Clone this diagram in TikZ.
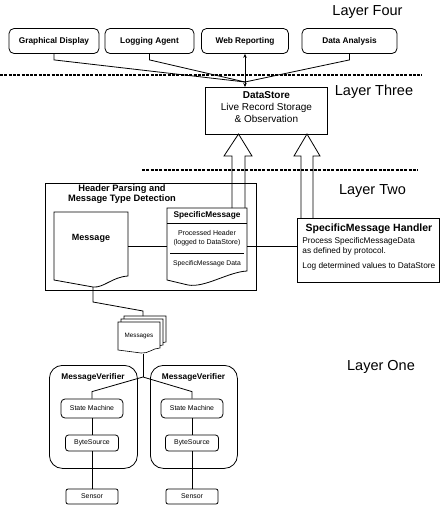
\documentclass[tikz,border=0pt]{standalone}
\usepackage{fontspec}
\setmainfont{Liberation Sans}
\usetikzlibrary{arrows.meta,calc}
\newcommand{\myfs}[2]{\fontsize{#1}{#2}\selectfont}
\begin{document}
\begin{tikzpicture}[x=1pt,y=-1pt,line width=0.8pt,
  topbox/.style={draw, rounded corners=5pt, minimum height=25pt, inner sep=0pt, font=\myfs{8.3}{9}\bfseries},
  layer/.style={font=\myfs{14.5}{16}},
  smallbox/.style={draw, rounded corners=4pt, inner sep=0pt, font=\myfs{6.9}{8}},
  verbox/.style={draw, rounded corners=13pt, minimum width=88pt, minimum height=103pt, inner sep=0pt},
  plainbox/.style={draw, inner sep=0pt},
  dotline/.style={line width=2.2pt, dash pattern=on 3pt off 1.3pt},
  tipend/.style={-{Stealth[length=4pt,width=3.5pt]}},
  tipboth/.style={{Stealth[length=4pt,width=3.5pt]}-{Stealth[length=4pt,width=3.5pt]}}]
\useasboundingbox (0,0) rectangle (443,507);

% layer labels
\node[layer] (l4) at (367.5,12) {Layer Four};
\node[layer] (l3) at (374,92) {Layer Three};
\node[layer] (l2) at (372.5,191) {Layer Two};
\node[layer] (l1) at (381,367) {Layer One};

% layer four boxes
\node[topbox, minimum width=90pt] (gd) at (54,41) {Graphical Display};
\node[topbox, minimum width=89pt] (la) at (149.5,41) {Logging Agent};
\node[topbox, minimum width=87pt] (wr) at (245,41) {Web Reporting};
\node[topbox, minimum width=95pt] (da) at (349.5,41) {Data Analysis};

% DataStore
\node[plainbox, minimum width=122pt, minimum height=47pt, anchor=north west] (ds) at (205,87) {};
\node[anchor=north, align=center, inner sep=0pt, font=\myfs{10}{12}] (dst) at ($(ds.north)+(0,4)$) {{\bfseries DataStore}\\Live Record Storage\\\& Observation};
\coordinate (dsin) at ($(ds.north west)+(40,0)$);
\coordinate (conv) at ($(dsin)+(0,-5)$);

\draw (gd.south) -- ++(0,6) -- (conv);
\draw (la.south) -- ++(0,6) -- (conv);
\draw (da.south) -- ++(0,6) -- (conv);
\draw[tipboth] (dsin) -- (wr.south);

% dotted separators
\draw[dotline] (0,75) -- (422,75);
\draw[dotline] (142,170) -- (418,170);

% header parsing box
\node[plainbox, minimum width=211pt, minimum height=107pt, anchor=north west] (hp) at (45,183) {};
\node[anchor=north, align=center, inner sep=0pt, font=\myfs{9.3}{10}\bfseries] (hpt) at (122,184) {Header Parsing and\\Message Type Detection};

% Message document
\draw (54,212) -- (128,212) -- (128,276) .. controls (112,277) and (104,288) .. (93,287) -- (54,280) -- cycle;
\coordinate (msgbot) at (93,287);
\coordinate (msgr) at (128,246);
\node[font=\myfs{9}{10}\bfseries] (msg) at (91,238) {Message};

% SpecificMessage document
\draw (167,208) -- (247,208) -- (247,271) .. controls (228,272) and (205,288) .. (188,285) -- (167,280) -- cycle;
\draw (167,223) -- (247,223);
\draw (170,253) -- (244,253);
\node[font=\myfs{8.3}{9}\bfseries] (smt) at (207,215.5) {SpecificMessage};
\node[align=center, font=\myfs{7}{9.5}] (smh) at (207,238) {Processed Header\\(logged to DataStore)};
\node[font=\myfs{6.8}{8}] (smd) at (207,264) {SpecificMessage Data};
\coordinate (sml) at (167,246);
\coordinate (smr) at (247,246);

% Handler
\node[plainbox, minimum width=142pt, minimum height=64pt, anchor=north west] (hd) at (297,218) {};
\node[font=\myfs{10.5}{12}\bfseries] (hdt) at (369,228.5) {SpecificMessage Handler};
\node[anchor=north west, align=left, inner sep=0pt, font=\myfs{8.3}{10}] (hdb) at (302,237) {Process SpecificMessageData\\as defined by protocol.\\[5pt]Log determined values to DataStore};

\draw (msgr) -- (sml);
\draw (smr) -- (hd.west |- smr);

% hollow arrows up to DataStore
\draw (232,208) -- (232,156) -- (224,156) -- (238.5,134) -- (252,156) -- (245,156) -- (245,208);
\draw (301,218) -- (301,156) -- (294,156) -- (307,134) -- (320,156) -- (313,156) -- (313,218);

% Messages stack
\foreach \d in {6,3,0}{
  \draw[fill=white, line width=0.6pt] (118+\d,322-\d) -- (160+\d,322-\d) -- (160+\d,348-\d) .. controls (153+\d,348-\d) and (148+\d,354-\d) .. (141+\d,353-\d) -- (118+\d,350-\d) -- cycle;
}
\node[font=\myfs{6.3}{7}] (msgs) at (139,336) {Messages};
\coordinate (msgstop) at (143,316);
\coordinate (msgsbot) at (143,353.5);
\draw (msgbot) -- ++(0,15) -- ($(msgstop)+(0,-5)$) -- (msgstop);

% Message verifiers
\node[verbox, anchor=north west] (mv1) at (49,365) {};
\node[verbox, anchor=north west, minimum width=87pt] (mv2) at (150,365) {};
\node[font=\myfs{8.3}{9}\bfseries] (mv1t) at (93,377) {MessageVerifier};
\node[font=\myfs{8.3}{9}\bfseries] (mv2t) at (193.5,377) {MessageVerifier};

\node[smallbox, minimum width=62pt, minimum height=19pt] (sm1) at (92,408.5) {State Machine};
\node[smallbox, minimum width=62pt, minimum height=19pt] (sm2) at (192,408.5) {State Machine};
\node[smallbox, rounded corners=3pt, minimum width=53pt, minimum height=16pt] (bs1) at (92,443) {ByteSource};
\node[smallbox, rounded corners=3pt, minimum width=53pt, minimum height=16pt] (bs2) at (192,443) {ByteSource};
\node[smallbox, rounded corners=2pt, minimum width=52pt, minimum height=15pt] (se1) at (92,496.5) {Sensor};
\node[smallbox, rounded corners=2pt, minimum width=52pt, minimum height=15pt] (se2) at (192,496.5) {Sensor};

\coordinate (br) at (143,377);
\draw (msgsbot) -- (br);
\draw (br) -- ($(sm1.north)+(0,-7)$) -- (sm1.north);
\draw (br) -- ($(sm2.north)+(0,-7)$) -- (sm2.north);
\draw (sm1.south) -- (bs1.north);
\draw (sm2.south) -- (bs2.north);
\draw (bs1.south) -- (se1.north);
\draw (bs2.south) -- (se2.north);
\end{tikzpicture}
\end{document}
